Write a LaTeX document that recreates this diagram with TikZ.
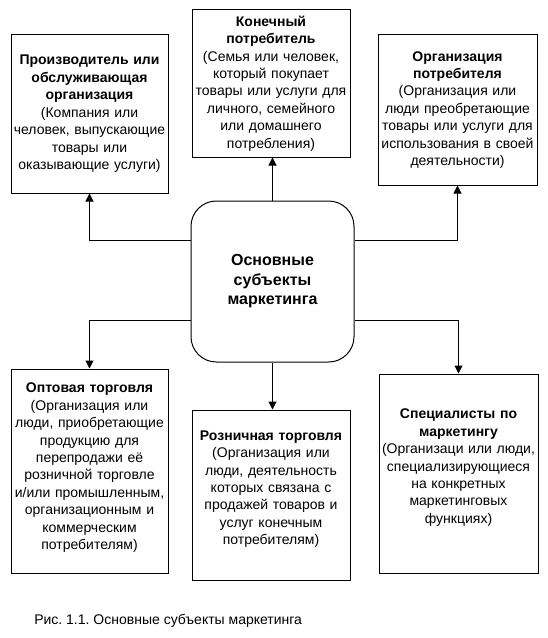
\documentclass[tikz,border=0pt]{standalone}
\usepackage{fontspec}
\setmainfont{Liberation Sans}
\usetikzlibrary{arrows.meta}
\frenchspacing
\newcommand{\lowpad}[1]{\rule[-#1]{0pt}{#1}}
\begin{document}
\begin{tikzpicture}[x=0.75pt,y=-0.75pt,
  box/.style={draw,line width=0.75pt,rectangle,inner sep=0pt,align=center,
    font=\fontsize{10.5}{13.1}\selectfont},
  hub/.style={draw,line width=0.75pt,rectangle,rounded corners=19pt,inner sep=0pt,align=center,
    font=\fontsize{12}{14.6}\selectfont\bfseries},
  arr/.style={line width=0.75pt,-{Triangle[length=6pt,width=6pt]}},
  capstyle/.style={font=\fontsize{10.5}{13.1}\selectfont,inner sep=0pt,anchor=west}]
\useasboundingbox (0,0) rectangle (547,638);

\node[box,text width=117.75pt,minimum height=118.5pt] (b1) at (89.5,114)
  {\textbf{Производитель или}\\\textbf{обслуживающая}\\\textbf{организация}\\(Компания или\\человек, выпускающие\\товары или\\оказывающие услуги)};
\node[box,text width=118.5pt,minimum height=110.25pt] (b2) at (271,83.5)
  {\textbf{Конечный}\\\textbf{потребитель}\\(Семья или человек,\\который покупает\\товары или услуги для\\личного, семейного\\или домашнего\\потребления)};
\node[box,text width=119.25pt,minimum height=112.5pt] (b3) at (457.5,110)
  {\textbf{Организация}\\\textbf{потребителя}\\(Организация или\\люди преобретающие\\товары или услуги для\\использования в своей\\деятельности)};
\node[hub,text width=122.25pt,minimum height=120.75pt] (c) at (272.5,281.5)
  {Основные\\субъекты\\маркетинга};
\node[box,text width=117.75pt,minimum height=153pt] (b4) at (89.5,471)
  {\textbf{Оптовая торговля}\\(Организация или\\люди, приобретающие\\продукцию для\\перепродажи её\\розничной торговле\\и/или промышленным,\\организационным и\\коммерческим\\потребителям)\lowpad{7pt}};
\node[box,text width=118.5pt,minimum height=127.5pt] (b5) at (271,495)
  {\textbf{Розничная торговля}\\(Организация или\\люди, деятельность\\которых связана с\\продажей товаров и\\услуг конечным\\потребителям)\lowpad{11pt}};
\node[box,text width=119.25pt,minimum height=149.25pt] (b6) at (458.5,473.5)
  {\textbf{Специалисты по}\\\textbf{маркетингу}\\(Организаци или люди,\\специализирующиеся\\на конкретных\\маркетинговых\\функциях)\lowpad{11pt}};

\draw[arr] ([yshift=31.125pt]c.west) -| (b1.south);
\draw[arr] (c.north) -- (c.north |- b2.south);
\draw[arr] ([yshift=31.125pt]c.east) -| (b3.south);
\draw[arr] ([yshift=-28.875pt]c.west) -| (b4.north);
\draw[arr] (c.south) -- (c.south |- b5.north);
\draw[arr] ([yshift=-28.875pt]c.east) -| (b6.north);

\node[capstyle] (caption) at (34,621) {Рис. 1.1. Основные субъекты маркетинга};
\end{tikzpicture}
\end{document}
